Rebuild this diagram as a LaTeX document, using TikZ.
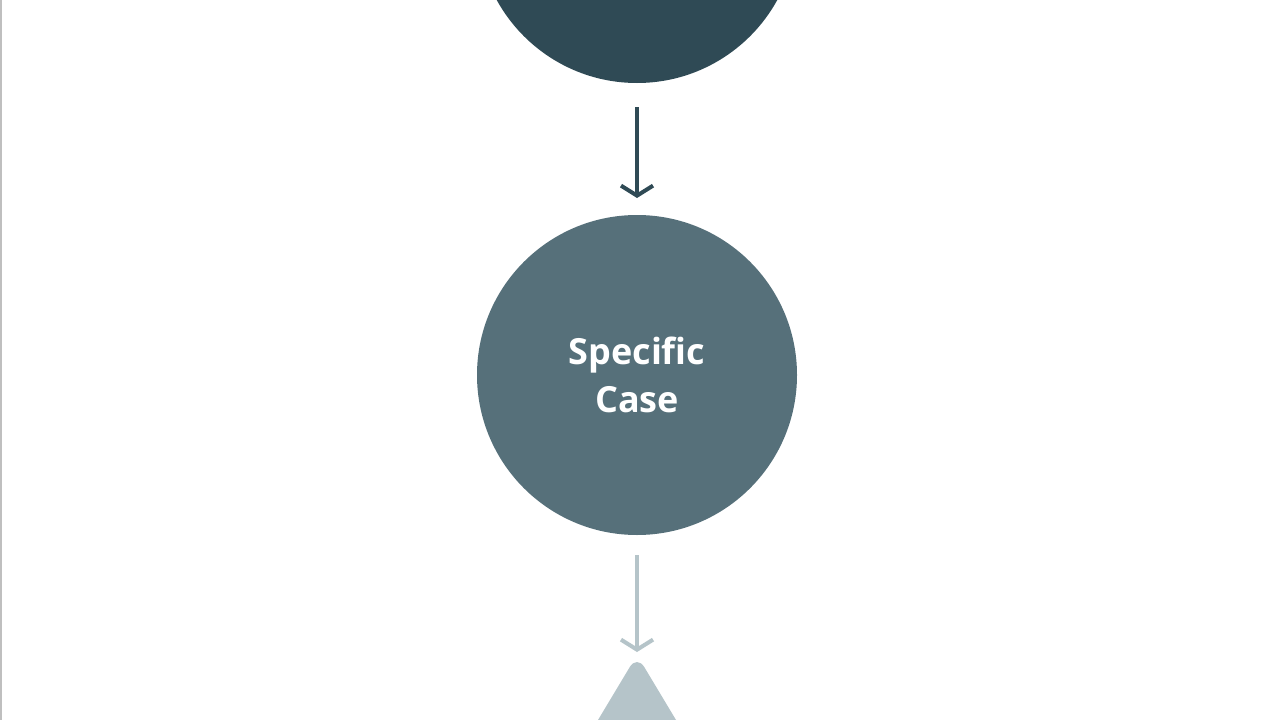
\documentclass[tikz,border=0pt]{standalone}
\usepackage{fontspec}
\setmainfont{Open Sans}
\usetikzlibrary{arrows.meta}
\definecolor{topc}{HTML}{2F4A55}
\definecolor{midc}{HTML}{56707A}
\definecolor{lightc}{HTML}{B5C4C9}
\tikzset{
  circ/.style={circle,minimum size=320pt,inner sep=0pt},
  arr/.style={line width=4pt,-{Straight Barb[length=10pt,width=32pt,line width=4pt]}}
}
\begin{document}
\begin{tikzpicture}[x=1pt,y=-1pt]
\useasboundingbox (0,0) rectangle (1280,720);
\fill[white] (0,0) rectangle (1280,720);
\draw[gray!50,line width=1.2pt] (1,0) -- (1,720);
\begin{scope}
\clip (0,0) rectangle (1280,720);
\node[circ,fill=topc] (top) at (637,-77) {};
\node[circ,fill=midc,text=white,font=\bfseries\fontsize{36}{48}\selectfont,align=center] (mid) at (637,375) {Specific\\Case};
\fill[lightc,rounded corners=14pt] (637,655) -- (700,760) -- (574,760) -- cycle;
\coordinate (tri) at (637,652);
\end{scope}
\coordinate (a1) at (637,107);
\coordinate (b1) at (637,198);
\coordinate (a2) at (637,555);
\draw[arr,topc] (a1) -- (b1);
\draw[arr,lightc] (a2) -- (tri);
\end{tikzpicture}
\end{document}
